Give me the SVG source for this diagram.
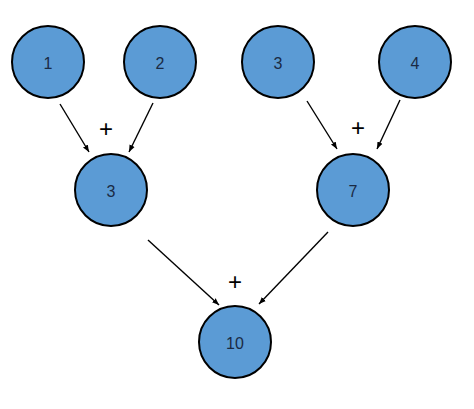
<svg xmlns="http://www.w3.org/2000/svg" width="474" height="409" viewBox="0 0 474 409">
<style>
.n circle{fill:#5b9bd5;stroke:#000;stroke-width:2}
.n text{font-family:"Liberation Sans",Arial,sans-serif;font-size:16px;fill:#1a2a44;text-anchor:middle;dominant-baseline:central}
.c line{stroke:#000;stroke-width:1.4;marker-end:url(#ah)}
.p{font-family:"Liberation Sans",Arial,sans-serif;font-size:24px;fill:#000;text-anchor:middle;dominant-baseline:central}
</style>
<defs>
<marker id="ah" viewBox="0 0 10 10" refX="10" refY="5" markerWidth="7" markerHeight="7" orient="auto" markerUnits="userSpaceOnUse">
<path d="M0,1 L10,5 L0,9 z" fill="#000"/>
</marker>
</defs>
<rect width="474" height="409" fill="#fff"/>
<g class="c">
<line x1="60" y1="104" x2="89" y2="152"/>
<line x1="153" y1="103" x2="129" y2="152"/>
<line x1="307" y1="101" x2="337" y2="149"/>
<line x1="400" y1="100" x2="377" y2="149"/>
<line x1="148" y1="240" x2="219" y2="305"/>
<line x1="328" y1="232" x2="259" y2="304"/>
</g>
<text class="p" x="106" y="128">+</text>
<text class="p" x="358" y="127">+</text>
<text class="p" x="235" y="281">+</text>
<g id="n1" class="n"><circle cx="48" cy="62" r="36"/><text x="48" y="63">1</text></g>
<g id="n2" class="n"><circle cx="160" cy="62" r="36"/><text x="160" y="63">2</text></g>
<g id="n3a" class="n"><circle cx="278" cy="62" r="36"/><text x="278" y="63">3</text></g>
<g id="n4" class="n"><circle cx="415" cy="62" r="36"/><text x="415" y="63">4</text></g>
<g id="n3b" class="n"><circle cx="111" cy="190" r="36"/><text x="111" y="191">3</text></g>
<g id="n7" class="n"><circle cx="353" cy="190" r="36"/><text x="353" y="191">7</text></g>
<g id="n10" class="n"><circle cx="235" cy="342" r="36"/><text x="235" y="343">10</text></g>
</svg>
